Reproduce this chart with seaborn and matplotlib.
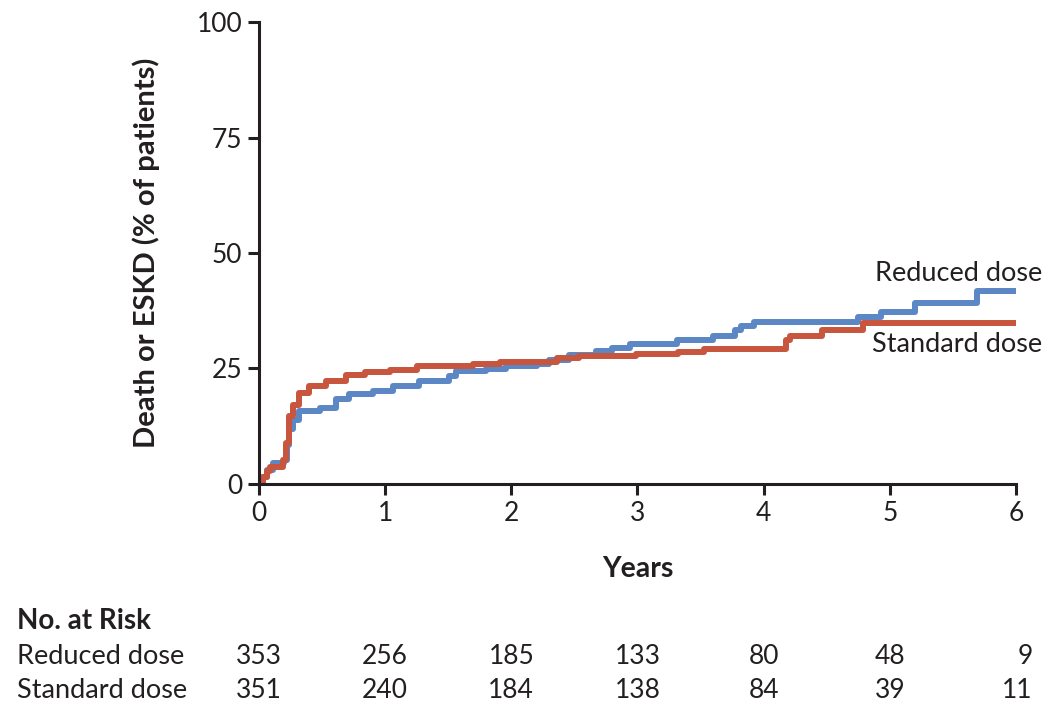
import matplotlib
matplotlib.use("Agg")
import matplotlib.pyplot as plt
import seaborn as sns
import pandas as pd

# Kaplan-Meier style cumulative incidence
reduced_years = [0, 0.03, 0.06, 0.11, 0.20, 0.22, 0.24, 0.27, 0.32, 0.48, 0.61, 0.71, 0.90,
                 1.06, 1.27, 1.51, 1.56, 1.80, 1.96, 2.20, 2.30, 2.46, 2.67, 2.80, 2.94,
                 3.31, 3.60, 3.77, 3.82, 3.92, 4.75, 4.93, 5.20, 5.69, 6.0]
reduced_pct = [0, 1.5, 3.0, 4.5, 5.2, 8.5, 11.8, 13.9, 15.8, 16.5, 18.3, 19.4, 20.1,
               21.2, 22.3, 23.4, 24.5, 24.8, 25.6, 25.9, 26.8, 28.0, 28.7, 29.4, 30.3,
               31.2, 32.1, 33.3, 34.2, 35.1, 36.2, 37.3, 39.1, 41.8, 41.8]

standard_years = [0, 0.03, 0.06, 0.085, 0.19, 0.217, 0.238, 0.27, 0.32, 0.40, 0.53, 0.69,
                  0.84, 1.04, 1.25, 1.70, 1.91, 2.36, 2.54, 2.99, 3.32, 3.53, 4.18, 4.21,
                  4.46, 4.79, 6.0]
standard_pct = [0, 1.5, 2.8, 3.6, 5.2, 8.9, 14.7, 17.2, 19.8, 21.2, 22.3, 23.7,
                24.3, 24.6, 25.6, 25.9, 26.4, 27.2, 27.6, 28.1, 28.6, 29.3, 31.2, 32.1,
                33.3, 34.8, 34.8]

groups = ["Reduced dose", "Standard dose"]
colors = ["#5b87c5", "#c8553d"]
x_ticks = [0, 1, 2, 3, 4, 5, 6]
y_ticks = [0, 25, 50, 75, 100]
risk_reduced = [353, 256, 185, 133, 80, 48, 9]
risk_standard = [351, 240, 184, 138, 84, 39, 11]

df = pd.concat([
    pd.DataFrame({"years": reduced_years, "pct": reduced_pct, "group": groups[0]}),
    pd.DataFrame({"years": standard_years, "pct": standard_pct, "group": groups[1]}),
])

sns.set_style("ticks")
plt.rcParams["font.family"] = ["Lato", "DejaVu Sans"]
ink = "#231f20"

fig = plt.figure(figsize=(10.51, 7.13), dpi=100)
ax = fig.add_axes([0.2464, 0.3212, 0.7203, 0.6479])

sns.lineplot(data=df, x="years", y="pct", hue="group", palette=colors,
             estimator=None, sort=False, drawstyle="steps-post", linewidth=4.3,
             legend=False, ax=ax)

ax.set_xlim(0, 6)
ax.set_ylim(0, 100)
ax.set_xticks(x_ticks)
ax.set_yticks(y_ticks)
ax.set_xticklabels([str(t) for t in x_ticks], fontsize=19, color=ink)
ax.set_yticklabels([str(t) for t in y_ticks], fontsize=19, color=ink)
ax.tick_params(axis="both", length=8, width=2.2, color=ink, direction="out", pad=4)
for s in ["left", "bottom"]:
    ax.spines[s].set_linewidth(2.2)
    ax.spines[s].set_color(ink)
sns.despine(ax=ax)
ax.set_xlabel("Years", fontsize=20.5, fontweight="bold", color=ink, labelpad=22)
ax.set_ylabel("Death or ESKD (% of patients)", fontsize=21, fontweight="bold",
              color=ink, labelpad=26)

ax.text(6.205, 45.5, groups[0], fontsize=19.5, ha="right", va="center", color=ink, clip_on=False)
ax.text(6.205, 30.3, groups[1], fontsize=19.5, ha="right", va="center", color=ink, clip_on=False)

# numbers at risk
to_axes = fig.transFigure + ax.transAxes.inverted()
fig.text(17 / 1051, 1 - 621 / 713, "No. at Risk", fontsize=20, fontweight="bold",
         color=ink, va="center")
for row_y, name, counts in [(657, groups[0], risk_reduced), (690, groups[1], risk_standard)]:
    yf = 1 - row_y / 713
    fig.text(17 / 1051, yf, name, fontsize=19.5, color=ink, va="center")
    yy = to_axes.transform((0, yf))[1]
    for i, (t, n) in enumerate(zip(x_ticks, counts)):
        last = i == len(counts) - 1
        ax.text(6.13 if last else t, yy, str(n), fontsize=19, color=ink, va="center",
                ha="right" if last else "center",
                transform=ax.get_xaxis_transform(), clip_on=False)

fig.savefig("out.png", dpi=100, facecolor="white")
